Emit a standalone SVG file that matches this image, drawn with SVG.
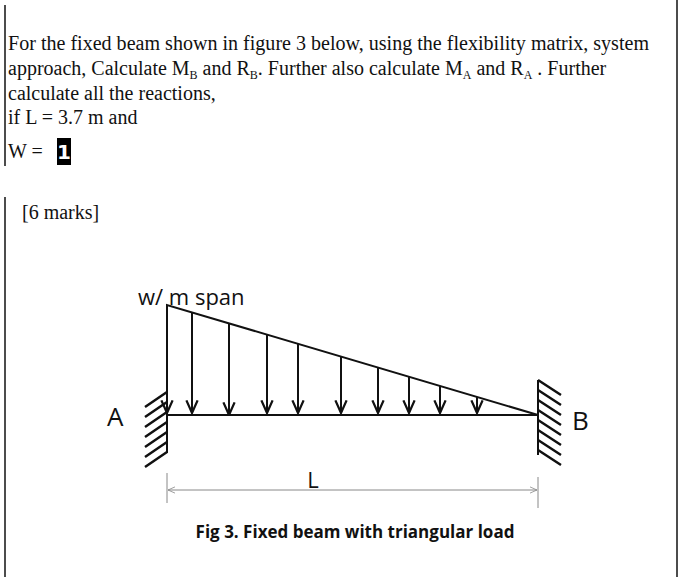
<svg xmlns="http://www.w3.org/2000/svg" width="700" height="577" viewBox="0 0 700 577">
<style>
.t{font-family:"Liberation Serif",serif;font-size:20px;fill:#111}
.s{font-family:"Liberation Serif",serif;font-size:12px;fill:#111}
.f{font-family:"Open Sans","Liberation Sans",sans-serif;fill:#111}
.ln{stroke:#111;stroke-width:2;fill:none}
.h{stroke:#111;stroke-width:2.5}
.d{stroke:#888;stroke-width:1;fill:none}
</style>
<defs>
<marker id="ar" viewBox="0 0 10 10" refX="9" refY="5" markerWidth="7" markerHeight="7" orient="auto"><path d="M0,1 L9,5 L0,9" fill="none" stroke="#111" stroke-width="1.6"/></marker>
<marker id="dm" viewBox="0 0 10 10" refX="9" refY="5" markerWidth="8" markerHeight="8" orient="auto-start-reverse"><path d="M0,1 L9,5 L0,9" fill="none" stroke="#888" stroke-width="1"/></marker>
</defs>
<rect width="700" height="577" fill="#fff"/>
<line x1="5" y1="5" x2="5" y2="166" stroke="#111" stroke-width="1.5"/>
<line x1="5" y1="197" x2="5" y2="577" stroke="#111" stroke-width="1.5"/>
<line x1="677" y1="0" x2="677" y2="577" stroke="#111" stroke-width="1.5"/>
<g id="text">
<text class="t" x="8" y="50" textLength="641" lengthAdjust="spacingAndGlyphs">For the fixed beam shown in figure 3 below, using the flexibility matrix, system</text>
<text class="t" x="8" y="75">approach, Calculate M<tspan class="s" dy="4">B</tspan><tspan dy="-4"> and R</tspan><tspan class="s" dy="4">B</tspan><tspan dy="-4">. Further also calculate M</tspan><tspan class="s" dy="4">A</tspan><tspan dy="-4"> and R</tspan><tspan class="s" dy="4">A</tspan><tspan dy="-4"> . Further</tspan></text>
<text class="t" x="8" y="100">calculate all the reactions,</text>
<text class="t" x="8" y="124">if L = 3.7 m and</text>
<text class="t" x="8" y="158">W  = </text>
<rect x="57" y="138" width="14" height="27" fill="#000"/>
<text x="64" y="159" text-anchor="middle" font-family="DejaVu Sans,sans-serif" font-size="20" font-weight="bold" fill="#fff">1</text>
<text class="t" x="22" y="219">[6 marks]</text>
</g>
<g id="beam">
<line class="ln" x1="167" y1="415" x2="538" y2="415"/>
<polyline class="ln" points="167,414 167,305 538,415"/>
</g>
<g id="loads">
<line class="ln" x1="167" y1="392" x2="167" y2="413" marker-end="url(#ar)"/>
<line class="ln" x1="192" y1="312" x2="192" y2="413" marker-end="url(#ar)"/>
<line class="ln" x1="229" y1="323" x2="229" y2="415" marker-end="url(#ar)"/>
<line class="ln" x1="267" y1="335" x2="267" y2="413" marker-end="url(#ar)"/>
<line class="ln" x1="298" y1="344" x2="298" y2="413" marker-end="url(#ar)"/>
<line class="ln" x1="341" y1="357" x2="341" y2="413" marker-end="url(#ar)"/>
<line class="ln" x1="378" y1="368" x2="378" y2="413" marker-end="url(#ar)"/>
<line class="ln" x1="409" y1="377" x2="409" y2="413" marker-end="url(#ar)"/>
<line class="ln" x1="440" y1="386" x2="440" y2="413" marker-end="url(#ar)"/>
<line class="ln" x1="477" y1="397" x2="477" y2="413" marker-end="url(#ar)"/>
</g>
<g id="supportA">
<line class="ln" x1="167" y1="392" x2="167" y2="453"/>
<path class="h" d="M167,392 L145,407 M167,402 L145,417 M167,412 L145,427 M167,422 L145,437 M167,432 L145,447 M167,442 L145,457 M167,452 L145,467"/>
<text class="f" x="107" y="426" font-size="26">A</text>
</g>
<g id="supportB">
<line class="ln" x1="538" y1="380" x2="538" y2="455"/>
<path class="h" d="M538,380 L561,395 M538,390 L561,405 M538,400 L561,415 M538,410 L561,425 M538,420 L561,435 M538,430 L561,445 M538,440 L561,455 M538,450 L561,465"/>
<text class="f" x="572" y="430" font-size="26">B</text>
</g>
<g id="dimension">
<line class="d" x1="167" y1="473" x2="167" y2="503"/>
<line class="d" x1="538" y1="477" x2="538" y2="508"/>
<line class="d" x1="168" y1="490" x2="537" y2="490" marker-start="url(#dm)" marker-end="url(#dm)"/>
<text class="f" x="313" y="488" font-size="22" text-anchor="middle">L</text>
</g>
<text class="f" x="138" y="305" font-size="22">w/ m span</text>
<text class="f" x="355" y="538" font-size="17" font-weight="bold" text-anchor="middle">Fig 3. Fixed beam with triangular load</text>
</svg>
